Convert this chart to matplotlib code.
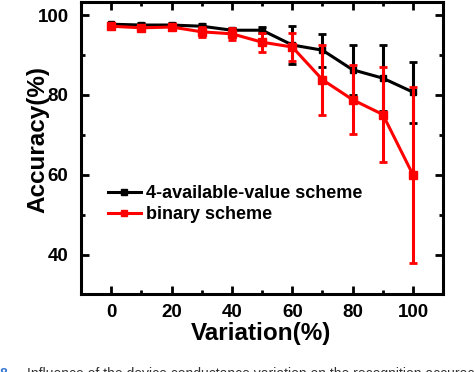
import matplotlib
matplotlib.use("Agg")
import matplotlib.pyplot as plt
from matplotlib.ticker import MultipleLocator
from matplotlib.lines import Line2D

plt.rcParams['font.family'] = ['Liberation Sans', 'DejaVu Sans']
plt.rcParams['font.weight'] = 'bold'

variation = [0, 10, 20, 30, 40, 50, 60, 70, 80, 90, 100]
acc_4val = [97.7, 97.5, 97.5, 97.2, 96.2, 96.2, 92.5, 91.2, 86.3, 84.2, 80.7]
err_4val = [0.4, 0.4, 0.4, 0.5, 0.6, 0.8, 4.8, 4.1, 6.3, 8.3, 7.6]
acc_bin = [97.2, 96.8, 97.0, 95.8, 95.3, 93.2, 92.0, 83.8, 78.8, 75.1, 60.0]
err_bin = [0.5, 0.6, 0.5, 1.2, 1.5, 2.4, 3.6, 8.8, 8.7, 12.0, 22.0]
labels = ['4-available-value scheme', 'binary scheme']
colors = ['black', '#ff0000']

fig = plt.figure(figsize=(4.74, 3.72), dpi=100)
ax = fig.add_axes([0.171, 0.21, 0.764, 0.785])

ax.errorbar(variation, acc_4val, yerr=err_4val, color=colors[0], lw=2.2,
            marker='s', ms=5, capsize=3, capthick=2, elinewidth=2.2, zorder=3)
ax.errorbar(variation, acc_bin, yerr=err_bin, color=colors[1], lw=2.2,
            marker='s', ms=6, capsize=3, capthick=2, elinewidth=2.2, zorder=4)

ax.set_xlim(-10, 110)
ax.set_ylim(30.2, 103.3)
ax.xaxis.set_major_locator(MultipleLocator(20))
ax.xaxis.set_minor_locator(MultipleLocator(10))
ax.yaxis.set_major_locator(MultipleLocator(20))
ax.yaxis.set_minor_locator(MultipleLocator(10))
ax.tick_params(which='both', direction='in', top=True, right=True, width=2)
ax.tick_params(which='major', length=6, labelsize=13.5)
ax.tick_params(axis='y', which='major', pad=9)
ax.tick_params(axis='x', which='major', pad=7)
ax.tick_params(which='minor', length=3)
for lab in ax.get_xticklabels() + ax.get_yticklabels():
    lab.set_fontweight('bold')
for s in ax.spines.values():
    s.set_linewidth(2.2)

ax.set_xlabel('Variation(%)', fontsize=17.5, fontweight='bold')
ax.set_ylabel('Accuracy(%)', fontsize=17.5, fontweight='bold')
ax.xaxis.set_label_coords(0.497, -0.096)
ax.yaxis.set_label_coords(-0.088, 0.527)

handles = [Line2D([], [], color=colors[0], lw=2.2, marker='s', ms=4),
           Line2D([], [], color=colors[1], lw=2.2, marker='s', ms=5)]
leg = ax.legend(handles, labels, loc='upper left', bbox_to_anchor=(0.075, 0.373),
                frameon=False, fontsize=13, handlelength=1.8, handletextpad=0.3,
                labelspacing=0.25, borderaxespad=0, borderpad=0)
for t in leg.get_texts():
    t.set_fontweight('bold')

fig.text(0.0, 5 / 372, '8', color='#3a7bd5', fontsize=10, va='top', ha='left')
fig.text(0.057, 5 / 372,
         'Influence of the device conductance variation on the recognition accuracy',
         color='#333333', fontsize=10, va='top', ha='left', fontweight='normal')

fig.savefig('out.png', dpi=100)
